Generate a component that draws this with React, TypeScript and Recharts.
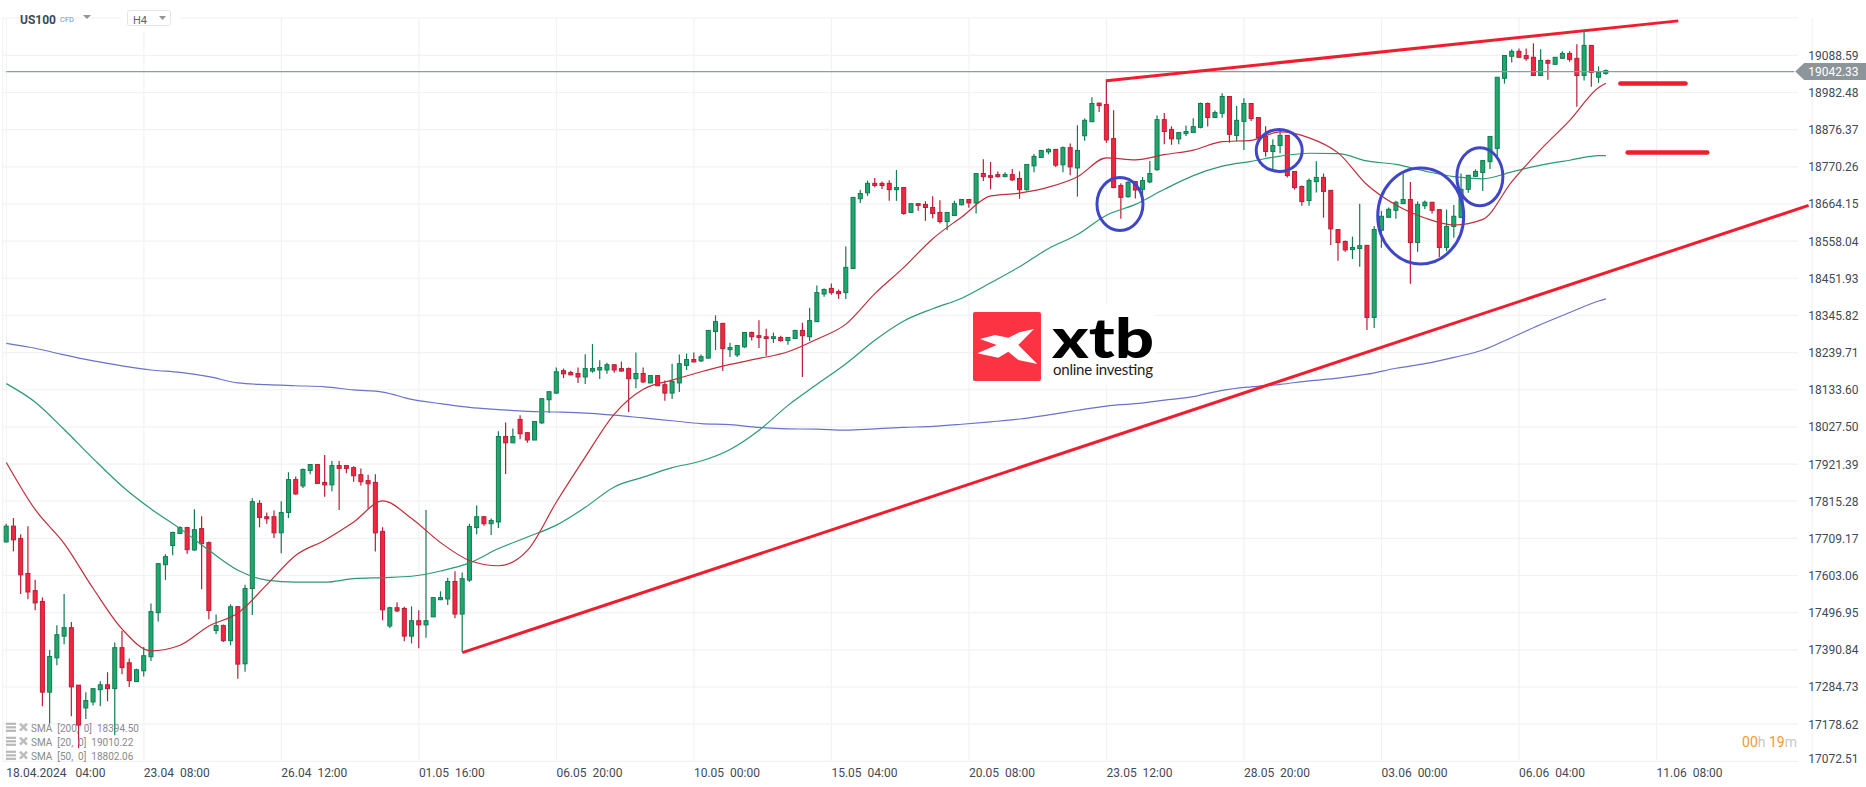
import {
  Bar,
  CartesianGrid,
  ComposedChart,
  Line,
  ReferenceDot,
  ReferenceLine,
  XAxis,
  YAxis,
} from "recharts";

// H4 candles, one entry per bar
const opens = [
  17699,17744,17709,17609,17560,17529,17270,17368,17430,17454,
  17290,17225,17242,17277,17291,17280,17397,17354,17300,17331,
  17371,17497,17634,17689,17723,17740,17676,17737,17697,17446,
  17460,17417,17514,17351,17566,17809,17771,17771,17725,17783,
  17877,17859,17903,17920,17869,17862,17917,17917,17911,17891,
  17874,17869,17729,17459,17511,17509,17430,17474,17462,17485,
  17534,17536,17586,17493,17590,17740,17771,17751,17756,18000,
  17982,18049,18011,17990,18039,18105,18124,18188,18183,18180,
  18170,18187,18190,18190,18205,18194,18194,18165,18180,18153,
  18174,18148,18124,18153,18203,18220,18216,18224,18300,18323,
  18248,18233,18256,18297,18288,18285,18280,18283,18274,18280,
  18303,18285,18328,18407,18423,18414,18411,18480,18679,18696,
  18723,18723,18723,18705,18711,18640,18665,18663,18654,18640,
  18614,18631,18662,18677,18667,18751,18745,18748,18742,18748,
  18737,18705,18773,18797,18813,18820,18776,18825,18767,18859,
  18899,18952,18948,18851,18717,18685,18728,18706,18727,18762,
  18905,18877,18850,18865,18868,18883,18951,18911,18923,18971,
  18860,18900,18951,18911,18857,18814,18831,18860,18757,18714,
  18674,18728,18740,18703,18591,18557,18534,18537,18546,18340,
  18589,18626,18646,18665,18677,18554,18659,18669,18648,18540,
  18600,18626,18706,18743,18754,18785,18823,19023,19086,19100,
  19088,19083,19031,19074,19063,19080,19094,19080,19031,19117,
  19026,19037,
];

const highs = [
  17751,17767,17721,17744,17591,17540,17390,17461,17550,17470,
  17290,17270,17280,17301,17327,17412,17445,17366,17337,17399,
  17523,17639,17664,17728,17744,17742,17792,17772,17700,17492,
  17463,17521,17516,17577,17824,17818,17783,17789,17815,17898,
  17886,17909,17921,17921,17947,17930,17930,17918,17915,17909,
  17891,17892,17741,17514,17527,17514,17515,17504,17790,17542,
  17558,17597,17615,17612,17751,17803,17773,17766,18015,18040,
  18023,18061,18012,18044,18109,18129,18197,18194,18188,18197,
  18235,18264,18218,18211,18206,18214,18197,18240,18197,18175,
  18175,18160,18208,18234,18237,18240,18234,18303,18346,18325,
  18268,18260,18298,18300,18332,18308,18297,18288,18284,18305,
  18325,18368,18431,18423,18437,18420,18543,18684,18705,18731,
  18738,18728,18732,18761,18712,18666,18666,18672,18686,18675,
  18641,18673,18677,18677,18751,18792,18784,18757,18755,18764,
  18757,18778,18807,18818,18823,18821,18828,18837,18889,18908,
  18969,18954,19020,18932,18723,18729,18729,18741,18787,18917,
  18924,18886,18869,18888,18909,18954,18954,18931,18980,18972,
  18944,18966,18952,18912,18886,18849,18872,18861,18758,18717,
  18737,18786,18751,18704,18592,18560,18571,18665,18547,18601,
  18644,18654,18673,18751,18727,18671,18674,18670,18649,18648,
  18661,18751,18747,18763,18789,18858,19026,19089,19106,19108,
  19108,19123,19106,19077,19084,19100,19100,19120,19156,19118,
  19057,19048,
];

const lows = [
  17697,17672,17550,17535,17504,17230,17180,17347,17407,17201,
  17110,17193,17232,17230,17244,17147,17321,17285,17299,17315,
  17359,17472,17590,17661,17722,17665,17673,17564,17478,17436,
  17413,17404,17308,17328,17490,17741,17751,17710,17667,17767,
  17834,17853,17892,17865,17828,17844,17790,17895,17871,17860,
  17794,17672,17475,17453,17499,17415,17409,17395,17425,17485,
  17533,17519,17481,17385,17585,17721,17745,17719,17739,17893,
  17982,17992,17982,17990,18036,18067,18122,18167,18175,18153,
  18150,18182,18164,18179,18182,18185,18070,18138,18153,18152,
  18144,18102,18107,18127,18190,18212,18213,18222,18247,18187,
  18227,18227,18253,18274,18253,18231,18267,18271,18262,18279,
  18170,18273,18327,18399,18405,18393,18393,18479,18667,18687,
  18712,18707,18673,18673,18633,18639,18645,18616,18623,18608,
  18589,18630,18660,18653,18637,18730,18706,18740,18741,18730,
  18679,18702,18755,18796,18806,18770,18755,18746,18685,18845,
  18899,18927,18839,18709,18622,18682,18680,18675,18723,18759,
  18835,18833,18835,18858,18867,18880,18885,18910,18910,18839,
  18843,18818,18901,18851,18799,18764,18809,18740,18705,18659,
  18659,18697,18625,18547,18502,18528,18507,18485,18304,18310,
  18539,18625,18622,18664,18436,18528,18650,18637,18513,18529,
  18568,18623,18696,18742,18701,18764,18799,19008,19068,19082,
  19073,19030,19030,19019,19062,19079,19070,18942,19017,18999,
  19010,19033,
];

const closes = [
  17744,17705,17605,17556,17525,17270,17372,17434,17454,17285,
  17176,17246,17280,17291,17280,17397,17340,17303,17334,17374,
  17500,17637,17657,17726,17740,17677,17734,17694,17503,17460,
  17417,17514,17350,17566,17814,17769,17765,17725,17783,17877,
  17836,17906,17920,17866,17862,17917,17909,17909,17888,17871,
  17865,17725,17505,17511,17502,17430,17474,17462,17474,17540,
  17540,17586,17493,17594,17743,17771,17751,17760,18000,17982,
  18000,18008,17990,18043,18108,18128,18185,18179,18176,18170,
  18194,18194,18197,18205,18190,18187,18165,18180,18156,18174,
  18145,18124,18157,18208,18220,18213,18228,18303,18328,18251,
  18254,18260,18297,18285,18283,18280,18285,18274,18283,18303,
  18288,18331,18411,18420,18411,18408,18483,18683,18694,18723,
  18717,18717,18705,18711,18637,18665,18660,18654,18637,18614,
  18640,18665,18677,18667,18751,18742,18740,18742,18748,18733,
  18705,18777,18800,18817,18820,18775,18825,18770,18817,18903,
  18951,18945,18847,18711,18683,18726,18704,18731,18751,18905,
  18871,18850,18868,18871,18885,18951,18911,18925,18971,18863,
  18903,18951,18908,18854,18814,18831,18860,18745,18711,18671,
  18731,18740,18700,18593,18554,18533,18540,18545,18340,18591,
  18629,18649,18669,18677,18554,18663,18669,18646,18540,18600,
  18629,18706,18746,18757,18788,18857,19026,19088,19100,19083,
  19079,19031,19074,19066,19083,19094,19077,19031,19117,19040,
  19040,19045,
];

// moving averages read every 4th bar, plus the last bar
const sma20 = [
  17926,17791,17694,17566,17450,17388,17404,17459,17496,17577,17661,17704,17756,17816,
  17766,17697,17646,17631,17675,17813,17942,18064,18135,18161,18185,18206,18223,18242,
  18278,18321,18408,18483,18565,18627,18687,18695,18712,18742,18796,18790,18805,18818,
  18842,18846,18870,18853,18810,18719,18661,18624,18604,18620,18728,18820,18903,18997,19009,
];
const sma50 = [
  18151,18098,18020,17937,17858,17793,17737,17675,17618,17590,17584,17584,17594,17597,
  17601,17616,17639,17680,17713,17747,17798,17856,17884,17911,17930,17963,18018,18089,
  18149,18208,18275,18330,18365,18395,18439,18485,18537,18577,18632,18663,18706,18745,
  18772,18786,18801,18809,18808,18787,18777,18758,18742,18736,18756,18775,18789,18802,18802,
];
const sma200 = [
  18266,18252,18233,18216,18202,18190,18183,18171,18153,18148,18145,18142,18133,18127,
  18106,18094,18083,18077,18072,18070,18067,18061,18053,18045,18037,18034,18026,18022,
  18021,18018,18022,18026,18029,18035,18042,18050,18062,18075,18087,18094,18104,18114,
  18132,18142,18149,18159,18167,18178,18195,18208,18226,18247,18283,18320,18354,18387,18393,
];

const priceTicks = [
  19088.59,18982.48,18876.37,18770.26,18664.15,18558.04,18451.93,18345.82,18239.71,18133.6,
  18027.5,17921.39,17815.28,17709.17,17603.06,17496.95,17390.84,17284.73,17178.62,17072.51,
];
const lastPrice = 19042.33;

const timeTickBars = [0,19,38,57,76,95,114,133,152,171,190,209,228];
const timeTickLabels = [
  "18.04.2024\u00a0\u00a0\u00a004:00","23.04\u00a0\u00a008:00","26.04\u00a0\u00a012:00","01.05\u00a0\u00a016:00",
  "06.05\u00a0\u00a020:00","10.05\u00a0\u00a000:00","15.05\u00a0\u00a004:00","20.05\u00a0\u00a008:00",
  "23.05\u00a0\u00a012:00","28.05\u00a0\u00a020:00","03.06\u00a0\u00a000:00","06.06\u00a0\u00a004:00","11.06\u00a0\u00a008:00",
];

// drawn annotations, [bar, price] pairs
const upperTrend = [[152, 19016], [231, 19187]];
const lowerTrend = [[63, 17383], [249, 18660]];
const levelOne = [[223, 19008], [232, 19008]];
const levelTwo = [[224, 18811], [235, 18811]];
const circledBars = [154, 176, 195, 204];
const circledPrices = [18664, 18817, 18630, 18742];
const circleRadii = [[23, 26.5], [23, 21], [43, 48], [23, 29]];
const circleNudge = [-1, -1, 3, -3];

const legendRows = [
  "SMA\u00a0\u00a0[200,\u00a0\u00a00]\u00a0\u00a018394.50",
  "SMA\u00a0\u00a0[20,\u00a0\u00a00]\u00a0\u00a019010.22",
  "SMA\u00a0\u00a0[50,\u00a0\u00a00]\u00a0\u00a018802.06",
];

const TOTAL_BARS = 250;

const rows = Array.from({ length: TOTAL_BARS }, (_, i) => {
  const hasCandle = i < opens.length;
  let smaSlot = -1;
  if (i === opens.length - 1) smaSlot = sma20.length - 1;
  else if (hasCandle && i % 4 === 0) smaSlot = i / 4;
  return {
    i,
    open: hasCandle ? opens[i] : null,
    close: hasCandle ? closes[i] : null,
    high: hasCandle ? highs[i] : null,
    low: hasCandle ? lows[i] : null,
    range: hasCandle ? [lows[i], highs[i]] : null,
    sma20: smaSlot >= 0 ? sma20[smaSlot] : null,
    sma50: smaSlot >= 0 ? sma50[smaSlot] : null,
    sma200: smaSlot >= 0 ? sma200[smaSlot] : null,
  };
});

function Candle(props: any) {
  const { x, y, width, height, payload } = props;
  if (payload.open == null || !height) return null;
  const k = height / (payload.high - payload.low);
  const up = payload.close >= payload.open;
  const top = y + (payload.high - Math.max(payload.open, payload.close)) * k;
  const bottom = y + (payload.high - Math.min(payload.open, payload.close)) * k;
  const mid = x + width / 2;
  const edge = up ? "#117a50" : "#b81d36";
  return (
    <g>
      <line x1={mid} x2={mid} y1={y} y2={y + height} stroke={edge} strokeWidth={1.2} />
      <rect
        x={x + 0.5}
        y={top}
        width={width - 1}
        height={Math.max(bottom - top, 1)}
        fill={up ? "#1fa76e" : "#f4263f"}
        stroke={edge}
        strokeWidth={1}
      />
    </g>
  );
}

function PriceTick({ x, y, payload }: any) {
  if (payload.value === lastPrice) {
    return (
      <g>
        <polygon points={`${x - 17},${y} ${x - 8},${y - 8.5} ${x + 54},${y - 8.5} ${x + 54},${y + 8.5} ${x - 8},${y + 8.5}`} fill="#8c9599" />
        <text x={x - 4} y={y + 4.5} fontSize={12} fill="#ffffff" fontFamily="Roboto">
          {lastPrice.toFixed(2)}
        </text>
      </g>
    );
  }
  const lift = payload.value === priceTicks[priceTicks.length - 1] ? -3 : 0;
  return (
    <text x={x - 4} y={y + 4.5 + lift} fontSize={12} fill="#3f4a54" fontFamily="Roboto">
      {payload.value.toFixed(2)}
    </text>
  );
}

function TimeTick({ x, y, payload }: any) {
  return (
    <text x={x} y={y + 14} fontSize={12} fill="#3f4a54" fontFamily="Roboto">
      {timeTickLabels[timeTickBars.indexOf(payload.value)]}
    </text>
  );
}

function segment(points: number[][]) {
  return points.map(([x, y]) => ({ x, y })) as any;
}

function Overlay() {
  return (
    <svg width={1866} height={787} style={{ position: "absolute", left: 0, top: 0, pointerEvents: "none" }} fontFamily="Roboto">
      {/* toolbar */}
      <rect x={120} y={8} width={60} height={24} fill="#ffffff" />
      <text x={20} y={23.5} fontSize={12} fontWeight={700} fill="#3c4a56">US100</text>
      <text x={60} y={22} fontSize={7.5} fill="#8a9097">CFD</text>
      <polygon points="83,15 91,15 87,19" fill="#8f9599" />
      <rect x={127.5} y={10.5} width={43} height={15} rx={2} fill="#ffffff" stroke="#e2e4e6" />
      <text x={133} y={24} fontSize={11} fill="#5a6670">H4</text>
      <polygon points="159,16 166,16 162.5,20" fill="#8f9599" />

      {/* logo */}
      <rect x={1042} y={305} width={114} height={80} fill="#ffffff" />
      <rect x={973} y={312} width={68} height={69} rx={2} fill="#fb3342" />
      <polygon
        points="1034,329 1019.3,332.3 1008.3,337.7 995,335 980,339 996.7,345 977.3,353.3 998.3,357.7 1008.3,351.7 1018.3,360 1037.3,364 1018.3,345"
        fill="#ffffff"
      />
      <text x={1052} y={358} fontSize={56} fontWeight={900} fill="#000000" fontFamily="Lato" textLength={102} lengthAdjust="spacingAndGlyphs">xtb</text>
      <text x={1053} y={375} fontSize={15} fill="#222222" fontFamily="Lato" textLength={100}>online investing</text>

      {/* indicator legend */}
      {legendRows.map((label, n) => {
        const mid = 727.7 + n * 14;
        return (
          <g key={label}>
            <rect x={6} y={mid - 5} width={10} height={2.2} fill="#b9b9b9" />
            <rect x={6} y={mid - 1.5} width={10} height={2.2} fill="#b9b9b9" />
            <rect x={6} y={mid + 2} width={10} height={2.2} fill="#b9b9b9" />
            <path d={`M20,${mid - 4} L27,${mid + 3} M27,${mid - 4} L20,${mid + 3}`} stroke="#bdbdbd" strokeWidth={2.6} />
            <text x={31} y={mid + 4} fontSize={10} fill="#8a8a8a">{label}</text>
          </g>
        );
      })}

      {/* candle countdown */}
      <text x={1797} y={747} fontSize={14} textAnchor="end">
        <tspan fill="#f89a1f">00</tspan>
        <tspan fill="#c8c8c8">h </tspan>
        <tspan fill="#f89a1f">19</tspan>
        <tspan fill="#c8c8c8">m</tspan>
      </text>
    </svg>
  );
}

export default function App() {
  return (
    <div style={{ position: "absolute", left: 0, top: 0, width: 1866, height: 787, background: "#ffffff", overflow: "hidden" }}>
      <ComposedChart
        width={1866}
        height={787}
        data={rows}
        margin={{ top: 18, right: 0, bottom: 0, left: 2.7 }}
        barCategoryGap={0}
      >
        <CartesianGrid x={2} width={1796} stroke="#f1f2f4" strokeWidth={1.2} />
        <XAxis
          dataKey="i"
          type="category"
          ticks={timeTickBars}
          interval={0}
          height={25.7}
          axisLine={false}
          tickLine={false}
          tickSize={0}
          tick={<TimeTick />}
        />
        <YAxis
          orientation="right"
          type="number"
          width={53.8}
          domain={[17072.51, 19195.2]}
          ticks={[...priceTicks, lastPrice]}
          interval={0}
          axisLine={false}
          tickLine={false}
          tickSize={0}
          tickMargin={0}
          tick={<PriceTick />}
        />
        <ReferenceLine
          segment={[{ x: 0, y: lastPrice }, { x: 247, y: lastPrice }]}
          stroke="#939a9e"
          strokeWidth={1.2}
        />
        <Bar dataKey="range" barSize={5} shape={<Candle />} isAnimationActive={false} />
        <Line type="monotone" dataKey="sma200" stroke="#6a72c9" strokeWidth={1.2} dot={false} connectNulls isAnimationActive={false} />
        <Line type="monotone" dataKey="sma50" stroke="#2b9a72" strokeWidth={1.2} dot={false} connectNulls isAnimationActive={false} />
        <Line type="monotone" dataKey="sma20" stroke="#bf2f3a" strokeWidth={1.2} dot={false} connectNulls isAnimationActive={false} />
        <ReferenceLine segment={segment(upperTrend)} stroke="#f11c2d" strokeWidth={3} />
        <ReferenceLine segment={segment(lowerTrend)} stroke="#f11c2d" strokeWidth={3} />
        <ReferenceLine segment={segment(levelOne)} stroke="#f11c2d" strokeWidth={4.5} strokeLinecap="round" />
        <ReferenceLine segment={segment(levelTwo)} stroke="#f11c2d" strokeWidth={4.5} strokeLinecap="round" />
        {circledBars.map((bar, n) => (
          <ReferenceDot
            key={bar}
            x={bar}
            y={circledPrices[n]}
            r={circleRadii[n][0]}
            shape={({ cx, cy }: any) => (
              <ellipse cx={cx + circleNudge[n]} cy={cy} rx={circleRadii[n][0]} ry={circleRadii[n][1]} fill="none" stroke="#3f47c8" strokeWidth={3} />
            )}
          />
        ))}
      </ComposedChart>
      <Overlay />
    </div>
  );
}
